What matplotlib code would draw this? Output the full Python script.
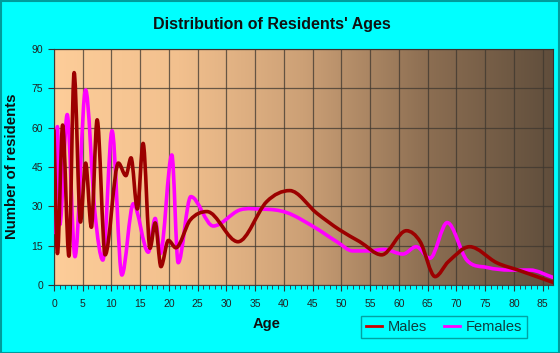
import matplotlib
matplotlib.use("Agg")
import matplotlib.pyplot as plt
from matplotlib.path import Path
from matplotlib.patches import PathPatch, Rectangle
from matplotlib.lines import Line2D
import numpy as np

plt.rcParams["font.family"] = ["Liberation Sans", "DejaVu Sans"]

MALE_AGES = [0.0, 0.6, 1.5, 2.6, 3.5, 4.6, 5.5, 6.5, 7.5, 8.9, 11.2, 12.5, 13.4,
             14.5, 15.5, 16.7, 17.6, 18.6, 19.9, 21.2, 23.7, 26.6, 32.0, 37.0,
             41.0, 45.7, 49.7, 53.2, 57.0, 61.3, 63.7, 66.3, 68.6, 72.3, 77.0,
             81.0, 86.8]
MALE_COUNTS = [59, 12, 61, 11, 81, 24, 46.5, 22, 63, 11.5, 46.5, 41.7, 48.5,
               29, 54, 14, 23.7, 7, 17, 14.2, 24.8, 28, 16.5, 31.8,
               36, 27.4, 21, 16.5, 11.5, 20.7, 16.5, 3.2, 8.9, 14.6, 8.5,
               5.5, 1]

FEMALE_AGES = [0.0, 0.6, 1.0, 2.3, 3.65, 5.5, 7.1, 8.5, 10.1, 11.8, 13.8, 16.4,
               17.6, 18.5, 20.5, 21.6, 23.8, 27.7, 32.3, 36.4, 40.5, 45.1, 49.2,
               52.0, 55.0, 57.3, 60.7, 63.0, 65.4, 68.4, 71.8, 75.3, 79.3, 82.8,
               86.8]
FEMALE_COUNTS = [20, 60.4, 23, 65, 10.8, 74.4, 28, 9.5, 58.8, 3.8, 31, 12.5,
                 25.4, 12, 49.6, 8.5, 33.7, 22.5, 28.6, 28.9, 27.6, 22.3, 16.5,
                 13, 13, 13.6, 11.8, 14.6, 10.2, 23.8, 9.5, 6.7, 5.7, 5.7,
                 2.9]

X_TICKS = list(range(0, 90, 5))
Y_TICKS = list(range(0, 91, 15))


def smooth_path(xs, ys):
    # piecewise cubic bezier through the points, flat tangent at extrema
    xs = np.asarray(xs, float)
    ys = np.asarray(ys, float)
    n = len(xs)
    m = np.zeros(n)
    for i in range(n):
        if i == 0:
            m[i] = (ys[1] - ys[0]) / (xs[1] - xs[0])
        elif i == n - 1:
            m[i] = (ys[-1] - ys[-2]) / (xs[-1] - xs[-2])
        else:
            d0 = ys[i] - ys[i - 1]
            d1 = ys[i + 1] - ys[i]
            if d0 * d1 <= 0:
                m[i] = 0
            else:
                m[i] = (ys[i + 1] - ys[i - 1]) / (xs[i + 1] - xs[i - 1])
    verts = [(xs[0], ys[0])]
    codes = [Path.MOVETO]
    for i in range(n - 1):
        h = xs[i + 1] - xs[i]
        verts += [(xs[i] + h / 3, ys[i] + m[i] * h / 3),
                  (xs[i + 1] - h / 3, ys[i + 1] - m[i + 1] * h / 3),
                  (xs[i + 1], ys[i + 1])]
        codes += [Path.CURVE4] * 3
    return Path(verts, codes)


fig = plt.figure(figsize=(5.6, 3.53), dpi=100, facecolor="#00ffff")
fig.patches.append(Rectangle((0.001, 0.001), 0.997, 0.996, transform=fig.transFigure,
                             fill=False, edgecolor="#009c9c", linewidth=1.5))
ax = fig.add_axes([54 / 560, 68 / 353, 499 / 560, 236 / 353])

xmax = 86.8
stops = np.array([[253, 205, 153], [242, 192, 142], [204, 160, 118],
                  [140, 110, 82], [96, 78, 60]]) / 255.0
pos = np.linspace(0, 1, len(stops))
t = np.linspace(0, 1, 400)
grad = np.stack([np.interp(t, pos, stops[:, c]) for c in range(3)], axis=-1)
ax.imshow(grad[np.newaxis, :, :], extent=[0, xmax, 0, 90], aspect="auto",
          zorder=0, interpolation="bilinear")

ax.set_xlim(0, xmax)
ax.set_ylim(0, 90)
ax.set_xticks(X_TICKS)
ax.set_xticks(range(0, 87), minor=True)
ax.set_yticks(Y_TICKS)
ax.grid(True, color="#3e372f", linewidth=0.9, alpha=0.75, zorder=1)
ax.set_axisbelow(False)

ax.add_patch(PathPatch(smooth_path(FEMALE_AGES, FEMALE_COUNTS), fill=False,
                       edgecolor="#ff00ff", linewidth=2.6, zorder=3,
                       capstyle="round", joinstyle="round"))
ax.add_patch(PathPatch(smooth_path(MALE_AGES, MALE_COUNTS), fill=False,
                       edgecolor="#9c0000", linewidth=2.6, zorder=4,
                       capstyle="round", joinstyle="round"))

for s in ["top", "right"]:
    ax.spines[s].set_color("#333333")
    ax.spines[s].set_linewidth(0.8)
for s in ["left", "bottom"]:
    ax.spines[s].set_color("#444444")
    ax.spines[s].set_linewidth(0.8)
ax.tick_params(axis="both", which="major", labelsize=7.5, colors="#333333",
               length=4, width=0.8, direction="out", pad=4)
ax.tick_params(axis="x", which="major", pad=6)
ax.tick_params(axis="x", which="minor", length=3, width=0.6, colors="#333333")
for lab in ax.get_xticklabels() + ax.get_yticklabels():
    lab.set_color("#222222")

fig.text(272 / 560, 1 - 24 / 353, "Distribution of Residents' Ages", ha="center",
         va="center", fontsize=11.5, fontweight="bold", color="#111111")
fig.text(12 / 560, 1 - 166 / 353, "Number of residents", ha="center", va="center",
         rotation=90, fontsize=10.8, fontweight="bold", color="#111111")
fig.text(267 / 560, 1 - 324 / 353, "Age", ha="center", va="center",
         fontsize=10.5, fontweight="bold", color="#111111")

handles = [Line2D([], [], color="#cc0000", linewidth=2),
           Line2D([], [], color="#ff00ff", linewidth=2)]
leg = fig.legend(handles, ["Males", "Females"], loc="center",
                 bbox_to_anchor=(444 / 560, 1 - 327 / 353), ncol=2, fontsize=10.5,
                 frameon=True, fancybox=False, handlelength=1.1, handletextpad=0.4,
                 columnspacing=1.2, borderpad=0.3)
leg.get_frame().set_edgecolor("#008c8c")
leg.get_frame().set_facecolor("#00ffff")
leg.get_frame().set_linewidth(1)
for txt in leg.get_texts():
    txt.set_color("#0f3f3f")

plt.savefig("out.png", dpi=100, facecolor=fig.get_facecolor())
plt.close()
